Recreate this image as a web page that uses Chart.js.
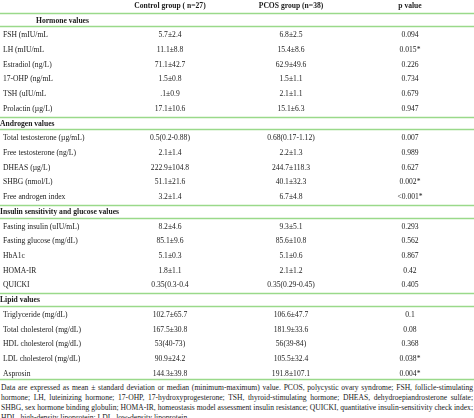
<!DOCTYPE html>
<html><head><meta charset="utf-8">
<script src="https://cdn.jsdelivr.net/npm/chart.js@4/dist/chart.umd.min.js"></script>
<style>
body{margin:0;background:#fff;width:474px;height:418px;overflow:hidden}
#wrap{position:relative;width:474px;height:381px}
#note{font:7.6px/10px "Liberation Serif",serif;color:#222;text-align:justify;padding:0 1px;margin-top:2px}
</style></head><body>
<div id="wrap"><canvas id="c"></canvas></div>
<div id="note">Data are expressed as mean ± standard deviation or median (minimum-maximum) value. PCOS, polycystic ovary syndrome; FSH, follicle-stimulating hormone; LH, luteinizing hormone; 17-OHP, 17-hydroxyprogesterone; TSH, thyroid-stimulating hormone; DHEAS, dehydroepiandrosterone sulfate; SHBG, sex hormone binding globulin; HOMA-IR, homeostasis model assessment insulin resistance; QUICKI, quantitative insulin-sensitivity check index; HDL, high-density lipoprotein; LDL, low-density lipoprotein</div>
<script>
const headers = ["", "Control group ( n=27)", "PCOS group (n=38)", "p value"];
const labels = ["Hormone values","FSH (mIU/mL","LH (mIU/mL","Estradiol (ng/L)","17-OHP (ng/mL","TSH (uIU/mL","Prolactin (µg/L)",
 "Androgen values","Total testosterone (µg/mL)","Free testosterone (ng/L)","DHEAS (µg/L)","SHBG (nmol/L)","Free androgen index",
 "Insulin sensitivity and glucose values","Fasting insulin (uIU/mL)","Fasting glucose (mg/dL)","HbA1c","HOMA-IR","QUICKI",
 "Lipid values","Triglyceride (mg/dL)","Total cholesterol (mg/dL)","HDL cholesterol (mg/dL)","LDL cholesterol (mg/dL)","Asprosin"];
const control = ["","5.7±2.4","11.1±8.8","71.1±42.7","1.5±0.8",".1±0.9","17.1±10.6",
 "","0.5(0.2-0.88)","2.1±1.4","222.9±104.8","51.1±21.6","3.2±1.4",
 "","8.2±4.6","85.1±9.6","5.1±0.3","1.8±1.1","0.35(0.3-0.4",
 "","102.7±65.7","167.5±30.8","53(40-73)","90.9±24.2","144.3±39.8"];
const pcos = ["","6.8±2.5","15.4±8.6","62.9±49.6","1.5±1.1","2.1±1.1","15.1±6.3",
 "","0.68(0.17-1.12)","2.2±1.3","244.7±118.3","40.1±32.3","6.7±4.8",
 "","9.3±5.1","85.6±10.8","5.1±0.6","2.1±1.2","0.35(0.29-0.45)",
 "","106.6±47.7","181.9±33.6","56(39-84)","105.5±32.4","191.8±107.1"];
const pvals = ["","0.094","0.015*","0.226","0.734","0.679","0.947",
 "","0.007","0.989","0.627","0.002*","<0.001*",
 "","0.293","0.562","0.867","0.42","0.405",
 "","0.1","0.08","0.368","0.038*","0.004*"];
const headings = [0,7,13,19];
const colX = [0, 170, 291, 410];

const tablePlugin = {
  id:'table',
  afterDraw(chart){
    const ctx = chart.ctx, y = chart.scales.y, x = chart.scales.x;
    ctx.save();
    ctx.fillStyle = '#1a1a1a';
    ctx.textBaseline = 'middle';
    const rowY = i => y.getPixelForValue(i);
    const lineAt = v => { const py = Math.round(y.getPixelForValue(v))+0.5;
      ctx.strokeStyle='#9ad98a'; ctx.lineWidth=1.6; ctx.beginPath(); ctx.moveTo(0,py); ctx.lineTo(474,py); ctx.stroke(); };
    // header
    ctx.font = 'bold 7.6px "Liberation Serif", serif';
    ctx.textAlign = 'center';
    for (let c=1;c<4;c++) ctx.fillText(headers[c], x.getPixelForValue(colX[c]), rowY(0));
    lineAt(0.45);
    labels.forEach((lab,i)=>{
      const r = i+1, py = rowY(r);
      if (headings.includes(i)) {
        ctx.font = 'bold 7.6px "Liberation Serif", serif';
        ctx.textAlign='left';
        ctx.fillText(lab, i===0?36:0, py);
        if (i!==0) lineAt(r-0.45);
        lineAt(r+0.4);
      } else {
        ctx.font = '7.6px "Liberation Serif", serif';
        ctx.textAlign='left';
        ctx.fillText(lab, 3, py);
        ctx.textAlign='center';
        ctx.fillText(control[i], x.getPixelForValue(colX[1]), py);
        ctx.fillText(pcos[i], x.getPixelForValue(colX[2]), py);
        ctx.fillText(pvals[i], x.getPixelForValue(colX[3]), py);
      }
    });
    lineAt(labels.length+0.35);
    ctx.restore();
  }
};

new Chart(document.getElementById('c'), {
  type:'scatter',
  data:{datasets:[{data:[],pointRadius:0}]},
  options:{
    responsive:true, maintainAspectRatio:false, animation:false,
    layout:{padding:0},
    plugins:{legend:{display:false},tooltip:{enabled:false}},
    scales:{
      x:{type:'linear',min:0,max:474,display:false},
      y:{type:'linear',min:-0.4,max:25.5,reverse:true,display:false}
    }
  },
  plugins:[tablePlugin]
});
</script>
</body></html>
